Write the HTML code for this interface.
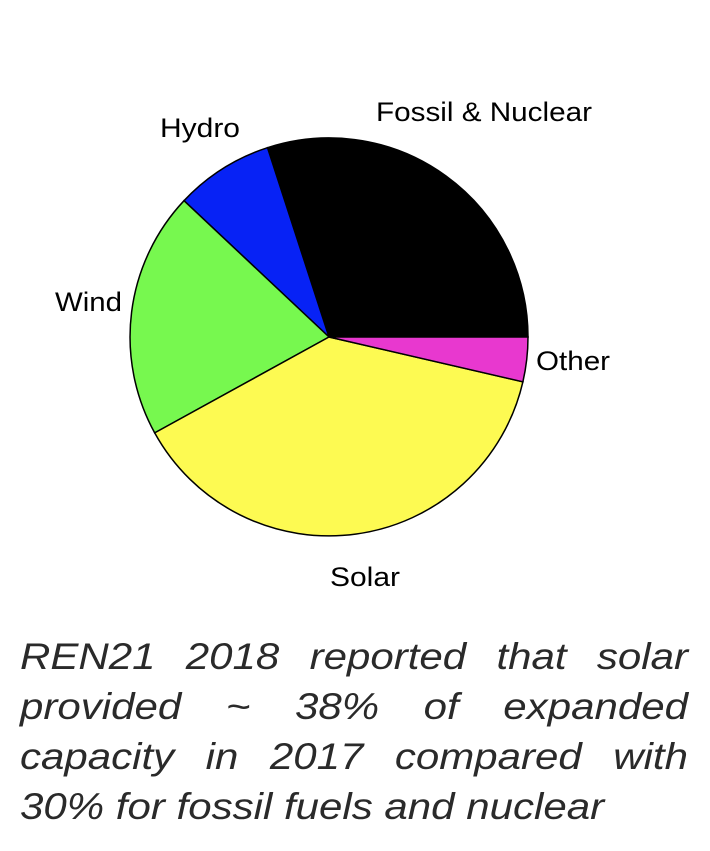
<!DOCTYPE html>
<html><head><style>
body{margin:0;width:710px;height:851px;background:#fff;overflow:hidden;font-family:"Liberation Sans",sans-serif;}
.cap{position:absolute;left:20px;top:632px;width:588px;font-style:italic;font-size:37px;line-height:50px;color:#2a2a2a;transform:scaleX(1.136);transform-origin:0 0;}
.cap div{text-align:justify;text-align-last:justify;white-space:nowrap;}
.cap div.l{text-align-last:left;}
</style></head><body>
<svg width="710" height="620" style="position:absolute;left:0;top:0" font-family="Liberation Sans, sans-serif" font-size="27" fill="#000">
<g stroke="#000" stroke-width="1.5">
<path d="M329,337 L528,337 A199,199 0 0 0 267.5,147.7 Z" fill="#000"/>
<path d="M329,337 L267.5,147.7 A199,199 0 0 0 184,200.7 Z" fill="#0722f5"/>
<path d="M329,337 L184,200.7 A199,199 0 0 0 154.7,432.9 Z" fill="#77f84f"/>
<path d="M329,337 L154.7,432.9 A199,199 0 0 0 522.9,381.8 Z" fill="#fdfa52"/>
<path d="M329,337 L522.9,381.8 A199,199 0 0 0 528,337 Z" fill="#e838cf"/>
</g>
<text x="376" y="121" textLength="216" lengthAdjust="spacingAndGlyphs">Fossil &amp; Nuclear</text>
<text x="160" y="137" textLength="80" lengthAdjust="spacingAndGlyphs">Hydro</text>
<text x="55" y="311" textLength="67" lengthAdjust="spacingAndGlyphs">Wind</text>
<text x="536" y="370" textLength="74" lengthAdjust="spacingAndGlyphs">Other</text>
<text x="330" y="586" textLength="70" lengthAdjust="spacingAndGlyphs">Solar</text>
</svg>
<div class="cap">
<div>REN21 2018 reported that solar</div>
<div>provided ~ 38% of expanded</div>
<div>capacity in 2017 compared with</div>
<div class="l">30% for fossil fuels and nuclear</div>
</div>
</body></html>
